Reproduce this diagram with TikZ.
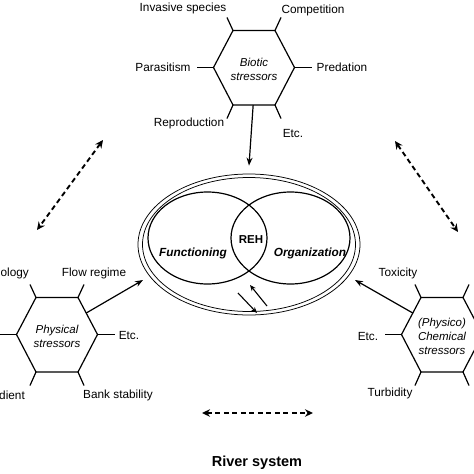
\documentclass[tikz,border=0pt]{standalone}
\usepackage{fontspec}
\setmainfont{Liberation Sans}
\usetikzlibrary{arrows.meta,shapes.geometric,calc}
\tikzset{
  hexline/.style={line width=1.2pt},
  hexa/.pic={
    \coordinate (-tl) at (-21,-37);
    \coordinate (-tr) at (21,-37);
    \coordinate (-r) at (40.5,0);
    \coordinate (-br) at (21,37.5);
    \coordinate (-bl) at (-21,37.5);
    \coordinate (-l) at (-40.5,0);
    \coordinate (-stl) at (-27,-50);
    \coordinate (-str) at (27,-50);
    \coordinate (-sr) at (57.5,0);
    \coordinate (-sbr) at (27,51);
    \coordinate (-sbl) at (-27,51);
    \coordinate (-sl) at (-57.5,0);
    \draw[hexline,line join=miter] (-tl) -- (-tr) -- (-r) -- (-br) -- (-bl) -- (-l) -- cycle;
    \draw[hexline] (-tl) -- (-stl);
    \draw[hexline] (-tr) -- (-str);
    \draw[hexline] (-r) -- (-sr);
    \draw[hexline] (-br) -- (-sbr);
    \draw[hexline] (-bl) -- (-sbl);
    \draw[hexline] (-l) -- (-sl);
  }
}
\begin{document}
\begin{tikzpicture}[x=1pt,y=-1pt,
  lbl/.style={font=\fontsize{11.8}{14}\selectfont, inner sep=0pt},
  hextxt/.style={font=\fontsize{11.5}{14}\selectfont\itshape, align=center, inner sep=0pt},
  vtxt/.style={font=\fontsize{11.8}{14}\selectfont\bfseries\itshape, inner sep=0pt},
  ttl/.style={font=\fontsize{14.5}{16}\selectfont\bfseries, inner sep=0pt},
  oval/.style={draw, ellipse, inner sep=0pt, line width=1.2pt},
  thinoval/.style={draw, ellipse, inner sep=0pt, line width=0.75pt},
  arr/.style={-{Stealth[length=8pt,width=6pt]}, line width=1.2pt},
  sarr/.style={-{Stealth[length=6pt,width=5pt]}, line width=1.1pt},
  darr/.style={{Stealth[length=8pt,width=7.5pt]}-{Stealth[length=8pt,width=7.5pt]}, line width=1.9pt, dash pattern=on 5pt off 3.5pt},
]
\useasboundingbox (0,0) rectangle (474,474);
\fill[white] (0,0) rectangle (474,474);

% central system
\node[thinoval, minimum width=222, minimum height=141] (sys) at (249,244.5) {};
\node[thinoval, minimum width=213, minimum height=134] (sysin) at (249,244.5) {};
\node[oval, minimum width=119, minimum height=92] (fun) at (207.5,238) {};
\node[oval, minimum width=119, minimum height=92] (org) at (290.5,238) {};
\node[vtxt] (funt) at (193,253) {Functioning};
\node[vtxt] (orgt) at (310,253) {Organization};
\node[font=\fontsize{11.5}{14}\selectfont\bfseries, inner sep=0pt] (reh) at (251,240) {REH};

% biotic hexagon
\pic (bio) at (254,67.5) {hexa};
\node[hextxt] (biot) at (254,69) {Biotic\\stressors};
\node[lbl] (inv) at (183,8) {Invasive species};
\node[lbl] (comp) at (313,10) {Competition};
\node[lbl] (para) at (163,67) {Parasitism};
\node[lbl] (pred) at (342,67) {Predation};
\node[lbl] (repr) at (189,123) {Reproduction};
\node[lbl] (etc1) at (293,133) {Etc.};

% physical hexagon
\pic (phy) at (57,334.5) {hexa};
\node[hextxt] (phyt) at (57,336) {Physical\\stressors};
\node[lbl, anchor=east] (hyd) at (29,273) {ology};
\node[lbl] (flow) at (94,273) {Flow regime};
\node[lbl] (etc2) at (129,335) {Etc.};
\node[lbl, anchor=east] (grad) at (25,395) {dient};
\node[lbl] (bank) at (118,395) {Bank stability};

% chemical hexagon
\pic (che) at (442,334.5) {hexa};
\node[hextxt] (chet) at (442,336) {(Physico)\\Chemical\\stressors};
\node[lbl] (tox) at (398,273) {Toxicity};
\node[lbl] (etc3) at (368,336) {Etc.};
\node[lbl] (turb) at (390,393) {Turbidity};

% arrows to system
\coordinate (biob) at ($(bio-bl)!0.48!(bio-br)$);
\draw[arr] (biob) -- ([yshift=8pt]sys.north);
\coordinate (phya) at ($(phy-tr)!0.42!(phy-r)$);
\coordinate (phye) at (143,280);
\draw[arr] (phya) -- (phye);
\coordinate (chea) at ($(che-tl)!0.42!(che-l)$);
\coordinate (chee) at (355,280);
\draw[arr] (chea) -- (chee);

% small feedback arrows
\coordinate (sa1) at (238,293);
\coordinate (sa2) at (257,313);
\coordinate (sb1) at (267,306);
\coordinate (sb2) at (250,285);
\draw[sarr] (sa1) -- (sa2);
\draw[sarr] (sb1) -- (sb2);

% dashed interaction arrows
\coordinate (dl1) at (103,140);
\coordinate (dl2) at (37,230);
\coordinate (dr1) at (395,141);
\coordinate (dr2) at (458,232);
\coordinate (db1) at (202,413);
\coordinate (db2) at (313,413);
\draw[darr] (dl1) -- (dl2);
\draw[darr] (dr1) -- (dr2);
\draw[darr] (db1) -- (db2);

\node[ttl] (river) at (257,463) {River system};
\end{tikzpicture}
\end{document}
